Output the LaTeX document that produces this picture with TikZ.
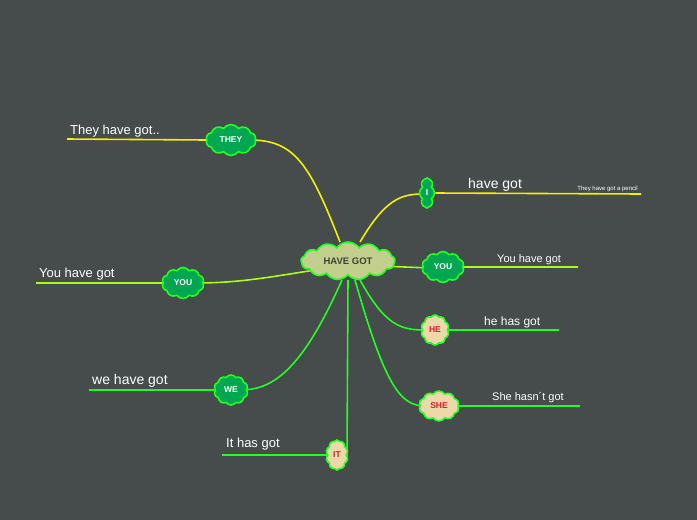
\documentclass[tikz,border=0pt]{standalone}
\usepackage{fontspec}
\setmainfont{Liberation Sans}
\usetikzlibrary{shapes.symbols}
\definecolor{bg}{HTML}{464B4B}
\definecolor{yl}{HTML}{F2F200}
\definecolor{lm}{HTML}{22FF22}
\definecolor{ly}{HTML}{A8FF10}
\definecolor{dg}{HTML}{00A650}
\definecolor{cf}{HTML}{C3CF8C}
\definecolor{bf}{HTML}{EED7A8}
\definecolor{rt}{HTML}{CC2233}
\tikzset{
 cl/.style={cloud, cloud puffs=10, cloud puff arc=110, cloud ignores aspect, draw=lm, line width=1.6pt, inner sep=0pt, font=\bfseries\fontsize{8.5}{9}\selectfont},
 gc/.style={cl, fill=dg, text=white},
 bc/.style={cl, fill=bf, text=rt},
 lab/.style={text=white, inner sep=0pt, anchor=base west, font=\fontsize{13}{15}\selectfont},
 lab2/.style={lab, font=\fontsize{11}{13}\selectfont},
 br/.style={line width=1.6pt},
}
\begin{document}
\begin{tikzpicture}[x=1pt,y=-1pt]
\fill[bg] (0,0) rectangle (697,520);
\useasboundingbox (0,0) rectangle (697,520);
\draw[br,yl] (340,242) .. controls (310,165) and (295,140) .. (250,140);
\draw[br,yl] (360,242) .. controls (385,200) and (400,194) .. (423,194);
\draw[br,ly] (380,266) -- (430,268);
\draw[br,ly] (315,270) .. controls (270,277) and (240,283) .. (195,283);
\draw[br,lm] (360,280) .. controls (385,325) and (400,330) .. (425,330);
\draw[br,lm] (355,280) .. controls (385,385) and (400,406) .. (425,406);
\draw[br,lm] (348,280) -- (347,455) -- (340,455);
\draw[br,lm] (342,280) .. controls (300,375) and (270,390) .. (240,390);
\node[cl, cloud puffs=13, fill=cf, text=black!75, font=\bfseries\fontsize{9.5}{10}\selectfont, minimum width=94, minimum height=38] (c) at (348,261) {HAVE GOT};
\node[gc, minimum width=50, minimum height=31] (they) at (231,140) {THEY};
\node[gc, cloud puffs=8, minimum width=15, minimum height=30] (i) at (427,193) {I};
\node[gc, minimum width=42, minimum height=31] (youR) at (443,267) {YOU};
\node[gc, minimum width=42, minimum height=31] (youL) at (183,283) {YOU};
\node[gc, minimum width=34, minimum height=30] (we) at (231,390) {WE};
\node[bc, minimum width=28, minimum height=30] (he) at (435,330) {HE};
\node[bc, minimum width=40, minimum height=30] (she) at (439,406) {SHE};
\node[bc, minimum width=22, minimum height=30] (it) at (337,455) {IT};
\coordinate (eThey) at (67,139);
\coordinate (eI) at (641,194);
\coordinate (eYouR) at (578,267);
\coordinate (eHe) at (559,330);
\coordinate (eShe) at (580,406);
\coordinate (eIt) at (222,455);
\coordinate (eWe) at (89,390);
\coordinate (eYouL) at (36,283);
\draw[br,yl] (they.west) -- (eThey);
\draw[br,yl] (i.east) -- (eI);
\draw[br,ly] (youR.east) -- (eYouR);
\draw[br,ly] (youL.west) -- (eYouL);
\draw[br,lm] (he.east) -- (eHe);
\draw[br,lm] (she.east) -- (eShe);
\draw[br,lm] (it.west) -- (eIt);
\draw[br,lm] (we.west) -- (eWe);
\node[lab] (t1) at (70,134) {They have got..};
\node[lab, font=\fontsize{14}{16}\selectfont] (t2) at (468,188) {have got};
\node[text=white, inner sep=0pt, anchor=base east, font=\fontsize{6}{7}\selectfont] (t3) at (638,190) {They have got a pencil};
\node[lab2] (t4) at (497,262) {You have got};
\node[lab, font=\fontsize{12}{14}\selectfont] (t5) at (484,325) {he has got};
\node[lab2] (t6) at (492,400) {She hasn´t got};
\node[lab] (t7) at (226,447) {It has got};
\node[lab, font=\fontsize{14}{16}\selectfont] (t8) at (92,384) {we have got};
\node[lab] (t9) at (39,277) {You have got};
\end{tikzpicture}
\end{document}
